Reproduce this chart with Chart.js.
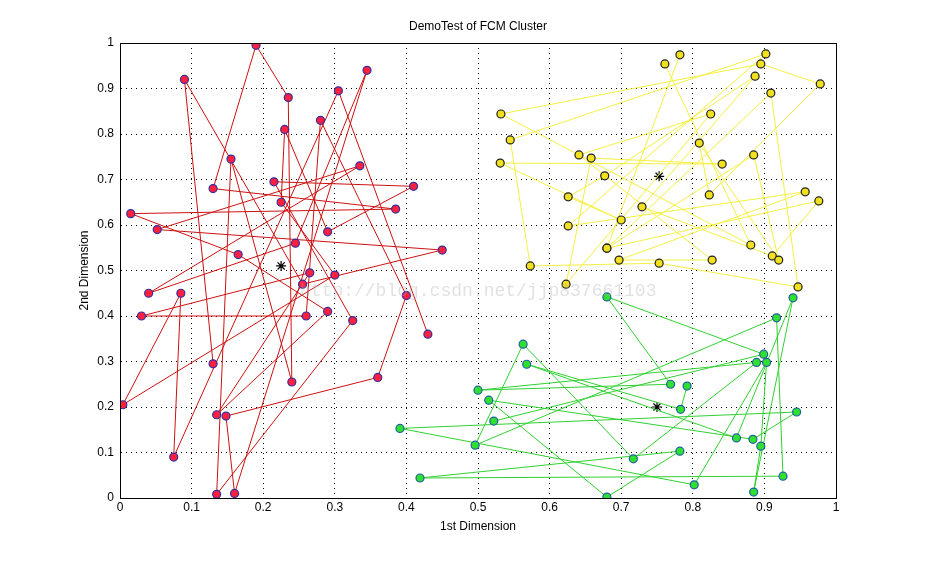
<!DOCTYPE html>
<html>
<head>
<meta charset="utf-8">
<script src="https://cdn.jsdelivr.net/npm/chart.js@4/dist/chart.umd.min.js"></script>
<style>
  body { margin: 0; background: #fff; }
  #wrap { width: 925px; height: 561px; }
</style>
</head>
<body>
<div id="wrap"><canvas id="fcm"></canvas></div>
<script>
// Cluster 1 (red), points in drawing order
const redX = [0.13, 0.09, 0.255, 0.45, 0.052, 0.335, 0.04, 0.245, 0.345, 0.16, 0.148, 0.36, 0.40, 0.28, 0.26, 0.03, 0.265, 0.135, 0.29, 0.165, 0.015, 0.385, 0.13, 0.19, 0.235, 0.24, 0.155, 0.135, 0.325, 0.215, 0.41, 0.29, 0.23, 0.225, 0.30, 0.004, 0.085, 0.075, 0.305, 0.43];
const redY = [0.295, 0.92, 0.47, 0.545, 0.59, 0.73, 0.45, 0.56, 0.94, 0.01, 0.18, 0.265, 0.445, 0.83, 0.40, 0.40, 0.495, 0.183, 0.41, 0.535, 0.625, 0.635, 0.68, 0.995, 0.88, 0.255, 0.745, 0.008, 0.39, 0.695, 0.685, 0.585, 0.81, 0.65, 0.49, 0.205, 0.45, 0.09, 0.895, 0.36];

// Cluster 2 (yellow)
const yellowX = [0.782, 0.680, 0.909, 0.947, 0.753, 0.573, 0.545, 0.902, 0.626, 0.957, 0.697, 0.827, 0.641, 0.825, 0.623, 0.658, 0.841, 0.531, 0.700, 0.626, 0.677, 0.887, 0.729, 0.911, 0.976, 0.680, 0.885, 0.920, 0.809, 0.823, 0.978, 0.895, 0.532, 0.881, 0.761];
const yellowY = [0.974, 0.549, 0.890, 0.464, 0.516, 0.510, 0.787, 0.976, 0.598, 0.673, 0.523, 0.523, 0.754, 0.844, 0.470, 0.747, 0.734, 0.736, 0.611, 0.662, 0.708, 0.927, 0.640, 0.532, 0.653, 0.549, 0.754, 0.523, 0.780, 0.666, 0.910, 0.954, 0.844, 0.556, 0.954];

// Cluster 3 (green)
const greenX = [0.792, 0.783, 0.568, 0.861, 0.940, 0.885, 0.895, 0.903, 0.802, 0.391, 0.945, 0.884, 0.515, 0.680, 0.782, 0.419, 0.926, 0.917, 0.496, 0.563, 0.717, 0.889, 0.500, 0.769, 0.680, 0.899, 0.522];
const greenY = [0.246, 0.195, 0.294, 0.132, 0.440, 0.013, 0.114, 0.298, 0.029, 0.153, 0.189, 0.129, 0.215, 0.002, 0.103, 0.044, 0.048, 0.396, 0.116, 0.338, 0.086, 0.298, 0.237, 0.250, 0.442, 0.316, 0.169];

// Cluster centres
const centerX = [0.225, 0.753, 0.750];
const centerY = [0.51, 0.707, 0.20];

const tickValues = [0, 0.1, 0.2, 0.3, 0.4, 0.5, 0.6, 0.7, 0.8, 0.9, 1];

const toPoints = (xs, ys) => xs.map((x, i) => ({ x: x, y: ys[i] }));

// Plot box, title, axis titles and watermark
const boxPlugin = {
    id: "box",
    afterDraw(chart) {
        const { ctx, chartArea: a } = chart;
        const midX = (a.left + a.right) / 2;
        ctx.save();
        ctx.strokeStyle = "#000";
        ctx.lineWidth = 1;
        ctx.strokeRect(a.left + 0.5, a.top + 0.5, a.width, a.height);

        ctx.fillStyle = "#000";
        ctx.font = "12px 'Liberation Sans'";
        ctx.textAlign = "center";
        ctx.textBaseline = "middle";
        ctx.fillText("DemoTest of FCM Cluster", midX, 27);
        ctx.fillText("1st Dimension", midX, 527);
        ctx.translate(85, (a.top + a.bottom) / 2);
        ctx.rotate(-Math.PI / 2);
        ctx.fillText("2nd Dimension", 0, 0);
        ctx.setTransform(1, 0, 0, 1, 0, 0);

        ctx.font = "18px 'Liberation Mono'";
        ctx.textAlign = "left";
        ctx.fillStyle = "rgba(170,170,170,0.35)";
        ctx.fillText("http://blog.csdn.net/jjp837661103", 300, 291);
        ctx.restore();
    }
};

new Chart(document.getElementById("fcm"), {
    type: "scatter",
    data: {
        datasets: [
            {
                data: toPoints(redX, redY), showLine: true,
                borderColor: "#cc1111", borderWidth: 1,
                pointBackgroundColor: "#ff2040", pointBorderColor: "#3030a0",
                pointRadius: 4, pointBorderWidth: 1.2
            },
            {
                data: toPoints(yellowX, yellowY), showLine: true,
                borderColor: "#f4f040", borderWidth: 1,
                pointBackgroundColor: "#f0e020", pointBorderColor: "#202020",
                pointRadius: 4, pointBorderWidth: 1.2
            },
            {
                data: toPoints(greenX, greenY), showLine: true,
                borderColor: "#30d030", borderWidth: 1,
                pointBackgroundColor: "#30e030", pointBorderColor: "#2060a0",
                pointRadius: 4, pointBorderWidth: 1.2
            },
            {
                data: toPoints(centerX, centerY), showLine: false,
                pointStyle: "star", pointRadius: 5,
                pointBorderColor: "#000", pointBorderWidth: 1.2
            }
        ]
    },
    options: {
        responsive: true,
        maintainAspectRatio: false,
        animation: false,
        layout: { padding: { left: 0, right: 89, top: 43, bottom: 0 } },
        plugins: {
            legend: { display: false },
            tooltip: { enabled: false },
            title: { display: false }
        },
        scales: {
            x: {
                type: "linear", min: 0, max: 1,
                afterBuildTicks: s => { s.ticks = tickValues.map(v => ({ value: v })); },
                afterFit: s => { s.height = 63; },
                ticks: { color: "#000", font: { family: "Liberation Sans", size: 12 }, padding: 2,
                         callback: v => String(v) },
                grid: { color: "#000", lineWidth: 1, drawTicks: false },
                border: { display: true, color: "#000", dash: [1, 4] }
            },
            y: {
                type: "linear", min: 0, max: 1,
                afterBuildTicks: s => { s.ticks = tickValues.map(v => ({ value: v })); },
                afterFit: s => { s.width = 120; },
                ticks: { color: "#000", font: { family: "Liberation Sans", size: 12 }, padding: 6,
                         callback: v => String(v) },
                grid: { color: "#000", lineWidth: 1, drawTicks: false },
                border: { display: true, color: "#000", dash: [1, 4] }
            }
        }
    },
    plugins: [boxPlugin]
});
</script>
</body>
</html>
